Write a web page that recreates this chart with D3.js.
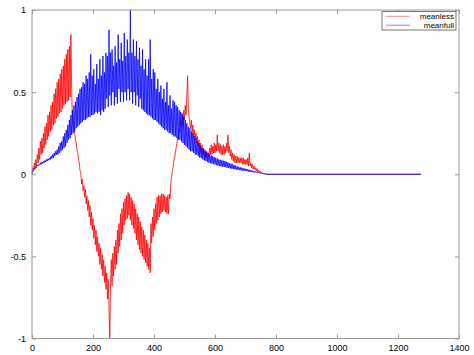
<!DOCTYPE html>
<html>
<head>
<meta charset="utf-8">
<script src="https://cdn.jsdelivr.net/npm/d3@7"></script>
<style>
  body { margin: 0; background: #fff; }
  text { font-family: "Liberation Sans", Arial, sans-serif; }
</style>
</head>
<body>
<div id="wrapper"></div>
<script>
// samples, one every 2.5 on the x axis from 0 to 770
const sampleX = d3.range(0, 772.5, 2.5)
const tailX = 1275 // both series sit flat at 0 out to here

const meanless = [
  0.00, 0.04, 0.02, 0.07, 0.03, 0.09, 0.05, 0.12,
  0.07, 0.16, 0.09, 0.20, 0.12, 0.22, 0.13, 0.25,
  0.16, 0.29, 0.18, 0.31, 0.21, 0.36, 0.23, 0.38,
  0.26, 0.42, 0.27, 0.44, 0.30, 0.49, 0.31, 0.52,
  0.34, 0.56, 0.35, 0.58, 0.37, 0.61, 0.38, 0.64,
  0.40, 0.66, 0.42, 0.70, 0.43, 0.73, 0.44, 0.76,
  0.45, 0.78, 0.47, 0.85, 0.52, 0.32, 0.30, 0.27,
  0.25, 0.21, 0.19, 0.15, 0.13, 0.09, 0.07, 0.02,
  0.01, -0.06, -0.03, -0.10, -0.07, -0.14, -0.09, -0.18,
  -0.13, -0.22, -0.16, -0.26, -0.19, -0.31, -0.23, -0.34,
  -0.27, -0.39, -0.31, -0.43, -0.34, -0.47, -0.38, -0.50,
  -0.42, -0.55, -0.45, -0.58, -0.49, -0.62, -0.52, -0.66,
  -0.56, -0.70, -0.60, -0.76, -0.64, -0.82, -1.00, -0.66,
  -0.52, -0.68, -0.48, -0.62, -0.44, -0.58, -0.40, -0.55,
  -0.34, -0.48, -0.30, -0.44, -0.24, -0.40, -0.21, -0.36,
  -0.17, -0.31, -0.15, -0.28, -0.13, -0.27, -0.11, -0.25,
  -0.12, -0.28, -0.14, -0.31, -0.16, -0.33, -0.18, -0.36,
  -0.21, -0.40, -0.24, -0.43, -0.26, -0.46, -0.29, -0.48,
  -0.32, -0.50, -0.34, -0.52, -0.37, -0.54, -0.40, -0.56,
  -0.42, -0.58, -0.45, -0.60, -0.30, -0.42, -0.26, -0.38,
  -0.21, -0.34, -0.18, -0.30, -0.14, -0.28, -0.13, -0.26,
  -0.13, -0.24, -0.12, -0.23, -0.12, -0.22, -0.13, -0.23,
  -0.14, -0.24, -0.13, -0.24, -0.12, -0.15, -0.06, -0.02,
  0.02, 0.04, 0.08, 0.10, 0.13, 0.16, 0.19, 0.22,
  0.24, 0.27, 0.26, 0.33, 0.29, 0.36, 0.30, 0.39,
  0.33, 0.42, 0.36, 0.47, 0.60, 0.40, 0.35, 0.31,
  0.28, 0.33, 0.25, 0.30, 0.22, 0.27, 0.21, 0.25,
  0.19, 0.23, 0.17, 0.21, 0.15, 0.19, 0.13, 0.18,
  0.12, 0.16, 0.11, 0.15, 0.10, 0.14, 0.10, 0.13,
  0.11, 0.16, 0.12, 0.18, 0.12, 0.17, 0.13, 0.19,
  0.13, 0.18, 0.14, 0.24, 0.14, 0.19, 0.13, 0.18,
  0.12, 0.17, 0.12, 0.18, 0.12, 0.17, 0.13, 0.19,
  0.14, 0.24, 0.13, 0.17, 0.11, 0.15, 0.09, 0.13,
  0.08, 0.12, 0.07, 0.11, 0.07, 0.11, 0.07, 0.10,
  0.07, 0.10, 0.07, 0.10, 0.06, 0.10, 0.06, 0.09,
  0.06, 0.09, 0.06, 0.10, 0.05, 0.13, 0.05, 0.07,
  0.04, 0.06, 0.03, 0.05, 0.03, 0.04, 0.02, 0.035,
  0.015, 0.025, 0.01, 0.02, 0.008, 0.012, 0.005, 0.008,
  0.003, 0.004, 0.001, 0.002, 0
]

const meanfull = [
  0.00, 0.02, 0.025, 0.035, 0.035, 0.045, 0.04, 0.055,
  0.05, 0.06, 0.055, 0.07, 0.06, 0.075, 0.065, 0.08,
  0.07, 0.085, 0.075, 0.09, 0.08, 0.095, 0.085, 0.10,
  0.09, 0.11, 0.095, 0.12, 0.10, 0.13, 0.11, 0.14,
  0.12, 0.15, 0.12, 0.17, 0.13, 0.19, 0.14, 0.20,
  0.15, 0.23, 0.16, 0.25, 0.17, 0.27, 0.19, 0.30,
  0.21, 0.33, 0.22, 0.36, 0.24, 0.39, 0.25, 0.42,
  0.26, 0.44, 0.28, 0.47, 0.29, 0.49, 0.30, 0.52,
  0.31, 0.53, 0.32, 0.56, 0.33, 0.55, 0.33, 0.60,
  0.34, 0.58, 0.35, 0.62, 0.35, 0.73, 0.36, 0.60,
  0.36, 0.64, 0.37, 0.55, 0.38, 0.67, 0.37, 0.58,
  0.38, 0.70, 0.36, 0.60, 0.39, 0.72, 0.38, 0.62,
  0.40, 0.74, 0.46, 0.72, 0.41, 0.88, 0.48, 0.74,
  0.42, 0.76, 0.50, 0.66, 0.42, 0.78, 0.47, 0.68,
  0.43, 0.85, 0.52, 0.70, 0.44, 0.80, 0.50, 0.69,
  0.44, 0.86, 0.50, 0.72, 0.45, 0.82, 0.52, 0.74,
  0.45, 1.00, 0.50, 0.74, 0.43, 0.82, 0.50, 0.72,
  0.42, 0.81, 0.48, 0.70, 0.41, 0.77, 0.46, 0.66,
  0.40, 0.76, 0.39, 0.64, 0.38, 0.70, 0.37, 0.60,
  0.36, 0.70, 0.36, 0.82, 0.35, 0.58, 0.34, 0.64,
  0.33, 0.62, 0.33, 0.52, 0.32, 0.58, 0.31, 0.50,
  0.30, 0.54, 0.29, 0.46, 0.28, 0.52, 0.27, 0.44,
  0.27, 0.56, 0.26, 0.42, 0.25, 0.48, 0.25, 0.40,
  0.24, 0.45, 0.23, 0.44, 0.23, 0.42, 0.22, 0.41,
  0.21, 0.39, 0.21, 0.38, 0.20, 0.37, 0.19, 0.35,
  0.18, 0.33, 0.17, 0.31, 0.16, 0.29, 0.15, 0.28,
  0.14, 0.26, 0.14, 0.25, 0.13, 0.23, 0.12, 0.22,
  0.12, 0.20, 0.11, 0.19, 0.10, 0.17, 0.10, 0.16,
  0.09, 0.15, 0.085, 0.14, 0.08, 0.135, 0.075, 0.13,
  0.07, 0.12, 0.068, 0.115, 0.065, 0.11, 0.062, 0.105,
  0.06, 0.10, 0.055, 0.095, 0.052, 0.09, 0.05, 0.088,
  0.048, 0.085, 0.046, 0.082, 0.044, 0.08, 0.042, 0.076,
  0.04, 0.072, 0.038, 0.068, 0.036, 0.064, 0.034, 0.06,
  0.032, 0.056, 0.03, 0.052, 0.028, 0.048, 0.027, 0.045,
  0.025, 0.042, 0.024, 0.04, 0.022, 0.037, 0.021, 0.035,
  0.02, 0.032, 0.018, 0.03, 0.016, 0.027, 0.015, 0.025,
  0.013, 0.022, 0.012, 0.02, 0.011, 0.017, 0.01, 0.015,
  0.008, 0.012, 0.007, 0.01, 0.005, 0.008, 0.004, 0.006,
  0.002, 0.003, 0.001, 0.001, 0
]

const seriesNames = ["meanless", "meanfull"]
const seriesColors = ["#ff0000", "#0000ff"]
const xTicks = [0, 200, 400, 600, 800, 1000, 1200, 1400]
const yTicks = [-1, -0.5, 0, 0.5, 1]

function drawChart() {

  // 1. Access data
  const toPoints = values => values.map((v, i) => ({x: sampleX[i], y: v}))
    .concat([{x: tailX, y: 0}])
  const series = [meanless, meanfull].map((values, i) => ({
    name: seriesNames[i],
    color: seriesColors[i],
    points: toPoints(values),
  }))

  // 2. Create chart dimensions
  let dimensions = {
    width: 474,
    height: 355,
    margin: {
      top: 10,
      right: 15,
      bottom: 16.5,
      left: 32,
    },
  }
  dimensions.boundedWidth = dimensions.width
    - dimensions.margin.left
    - dimensions.margin.right
  dimensions.boundedHeight = dimensions.height
    - dimensions.margin.top
    - dimensions.margin.bottom

  // 3. Draw canvas
  const wrapper = d3.select("#wrapper")
    .append("svg")
      .attr("width", dimensions.width)
      .attr("height", dimensions.height)

  const bounds = wrapper.append("g")
      .attr("transform", `translate(${dimensions.margin.left}, ${dimensions.margin.top})`)

  // 4. Create scales
  const xScale = d3.scaleLinear()
    .domain([0, 1400])
    .range([0, dimensions.boundedWidth])
  const yScale = d3.scaleLinear()
    .domain([-1, 1])
    .range([dimensions.boundedHeight, 0])

  // 5. Draw data
  const lineGenerator = d3.line()
    .x(d => xScale(d.x))
    .y(d => yScale(d.y))

  bounds.append("g")
    .selectAll("path")
    .data(series)
    .join("path")
      .attr("d", d => lineGenerator(d.points))
      .attr("fill", "none")
      .attr("stroke", d => d.color)
      .attr("stroke-width", 0.8)
      .attr("stroke-linejoin", "bevel")

  // 6. Draw peripherals
  const frameColor = "#999"
  const fmt = d => String(d)

  const styleAxis = g => {
    g.select(".domain").remove()
    g.selectAll(".tick line").attr("stroke", frameColor)
    g.selectAll(".tick text")
      .attr("fill", "#000")
      .style("font-size", "9px")
  }

  bounds.append("g")
    .attr("transform", `translate(0, ${dimensions.boundedHeight})`)
    .call(d3.axisBottom(xScale).tickValues(xTicks).tickFormat(fmt)
      .tickSizeInner(-4).tickSizeOuter(0).tickPadding(6))
    .call(styleAxis)

  bounds.append("g")
    .call(d3.axisTop(xScale).tickValues(xTicks).tickFormat("")
      .tickSizeInner(-4).tickSizeOuter(0))
    .call(styleAxis)

  bounds.append("g")
    .call(d3.axisLeft(yScale).tickValues(yTicks).tickFormat(fmt)
      .tickSizeInner(-4).tickSizeOuter(0).tickPadding(6))
    .call(styleAxis)

  bounds.append("g")
    .attr("transform", `translate(${dimensions.boundedWidth}, 0)`)
    .call(d3.axisRight(yScale).tickValues(yTicks).tickFormat("")
      .tickSizeInner(-4).tickSizeOuter(0))
    .call(styleAxis)

  bounds.append("rect")
    .attr("width", dimensions.boundedWidth)
    .attr("height", dimensions.boundedHeight)
    .attr("fill", "none")
    .attr("stroke", frameColor)

  // legend
  const legend = bounds.append("g")
    .attr("transform", `translate(${dimensions.boundedWidth - 77}, 1.5)`)

  legend.append("rect")
    .attr("width", 74)
    .attr("height", 18.5)
    .attr("fill", "#fff")
    .attr("stroke", "#555")
    .attr("stroke-width", 0.8)

  const items = legend.selectAll("g.item")
    .data(series)
    .join("g")
      .attr("class", "item")
      .attr("transform", (d, i) => `translate(0, ${4.8 + i * 8.9})`)

  items.append("line")
    .attr("x1", 4)
    .attr("x2", 28)
    .attr("stroke", d => d.color)
    .attr("stroke-opacity", 0.6)
    .attr("stroke-width", 0.8)

  items.append("text")
    .attr("x", 72)
    .attr("y", 2.8)
    .attr("text-anchor", "end")
    .style("font-size", "8px")
    .attr("fill", "#000")
    .text(d => d.name)
}

drawChart()
</script>
</body>
</html>
